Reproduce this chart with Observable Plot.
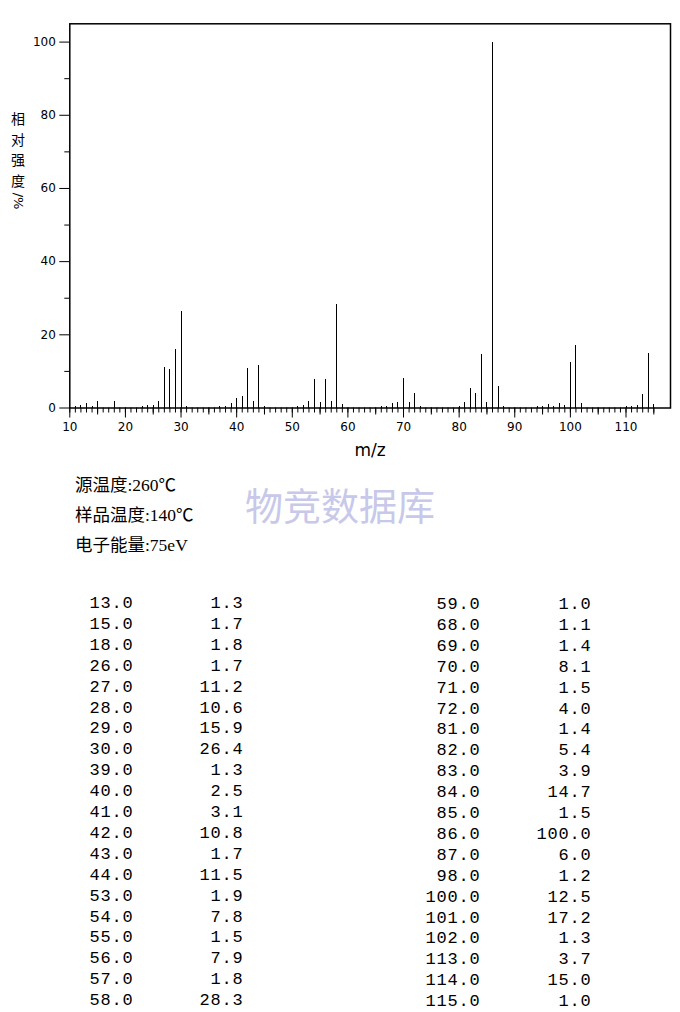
<!DOCTYPE html>
<html><head><meta charset="utf-8">
<script src="https://cdn.jsdelivr.net/npm/d3@7"></script>
<script src="https://cdn.jsdelivr.net/npm/@observablehq/plot@0.6"></script>
<style>
body{margin:0;background:#fff;}
#page{position:relative;width:680px;height:1012px;overflow:hidden;background:#fff;}
#chart{position:absolute;left:0;top:0;}
.ylab{position:absolute;left:9px;top:108px;width:18px;font-family:"Noto Sans CJK SC",sans-serif;font-size:14px;line-height:20.5px;color:#000;text-align:center;}
.ylab .ch{display:block;height:20.5px;}
.ylab .rot{display:block;height:22px;position:relative;}
.ylab .rot span{position:absolute;left:50%;top:50%;transform:translate(-50%,-50%) rotate(90deg);white-space:nowrap;font-family:"DejaVu Sans",sans-serif;font-size:13px;line-height:14px;}
.info{position:absolute;left:75px;font-family:"Liberation Serif","Noto Sans CJK SC",serif;font-size:17.5px;line-height:20px;color:#000;white-space:nowrap;}
.wm{position:absolute;left:0;width:680px;text-align:center;top:482px;font-family:"Noto Sans CJK SC",sans-serif;font-size:38px;line-height:44px;color:#c8c8ea;}
.cell{position:absolute;font-family:"Liberation Mono",monospace;font-size:17px;line-height:14px;letter-spacing:0.8px;color:#000;text-align:right;white-space:nowrap;}
</style></head><body><div id="page"><div id="chart"></div></div>
<script>
// Peak list (table values, relative intensity >= 1%)
const tableMz = [13,15,18,26,27,28,29,30,39,40,41,42,43,44,53,54,55,56,57,58,
                 59,68,69,70,71,72,81,82,83,84,85,86,87,98,100,101,102,113,114,115];
const tableInt = [1.3,1.7,1.8,1.7,11.2,10.6,15.9,26.4,1.3,2.5,3.1,10.8,1.7,11.5,1.9,7.8,1.5,7.9,1.8,28.3,
                  1.0,1.1,1.4,8.1,1.5,4.0,1.4,5.4,3.9,14.7,1.5,100.0,6.0,1.2,12.5,17.2,1.3,3.7,15.0,1.0];
// Small peaks (< 1%)
const minorMz  = [11,12,14,23,24,25,31,37,38,45,51,52,66,67,73,80,88,94,95,96,97,99,110,111,112];
const minorInt = [0.4,0.6,0.4,0.4,0.6,0.6,0.4,0.4,0.4,0.4,0.4,0.6,0.5,0.5,0.4,0.4,0.4,0.4,0.4,0.9,0.5,0.6,0.3,0.4,0.6];
const xTickLabels = [10,20,30,40,50,60,70,80,90,100,110];
const yTickLabels = [0,20,40,60,80,100];
const yMinorTicks = [10,30,50,70,90];
const xLabel = "m/z";
const yLabelChars = ["相","对","强","度"];
const yLabelUnit = "/%";
const infoLines = ["源温度:260℃","样品温度:140℃","电子能量:75eV"];
const watermark = "物竞数据库";

const peaks = tableMz.map((m,i)=>({mz:m,int:tableInt[i]}))
  .concat(minorMz.map((m,i)=>({mz:m,int:minorInt[i]})));

const chart = Plot.plot({
  width:680, height:470,
  marginLeft:69.3, marginRight:10, marginTop:23.3, marginBottom:62.5,
  x:{domain:[10,118]},
  y:{domain:[0,105]},
  style:{fontFamily:"DejaVu Sans", fontSize:"12px", color:"#000", background:"transparent", overflow:"visible"},
  marks:[
    Plot.axisX({ticks:d3.range(10,116), tickSize:5, tickFormat:()=>"", label:null}),
    Plot.axisX({ticks:d3.range(15,116,10), tickSize:7, tickFormat:()=>"", label:null}),
    Plot.axisX({ticks:xTickLabels, tickSize:10, tickPadding:4, label:null}),
    Plot.axisY({ticks:yTickLabels, tickSize:10, tickPadding:4, label:null}),
    Plot.axisY({ticks:yMinorTicks, tickSize:5, tickFormat:()=>"", label:null}),
    Plot.ruleX(peaks, {x:"mz", y1:0, y2:"int", stroke:"#000", strokeWidth:1, shapeRendering:"crispEdges"}),
    Plot.frame({stroke:"#000", strokeWidth:1.5}),
    Plot.text([xLabel], {frameAnchor:"bottom", dy:48, text:d=>d, fontSize:17, fill:"#000", letterSpacing:"3px"})
  ]
});
const page = document.getElementById("page");
document.getElementById("chart").appendChild(chart);

const yl = document.createElement("div");
yl.className="ylab";
yLabelChars.forEach(c=>{const s=document.createElement("span"); s.className="ch"; s.textContent=c; yl.appendChild(s);});
const rot=document.createElement("span"); rot.className="rot";
const rs=document.createElement("span"); rs.textContent=yLabelUnit; rot.appendChild(rs); yl.appendChild(rot);
page.appendChild(yl);

const infoCenters=[485,515,545];
infoLines.forEach((t,i)=>{
  const d=document.createElement("div"); d.className="info"; d.textContent=t;
  d.style.top=(infoCenters[i]-10)+"px"; page.appendChild(d);
});
const wm=document.createElement("div"); wm.className="wm"; wm.textContent=watermark; page.appendChild(wm);

const half = 20;
function cell(text, rightEdge, center){
  const d=document.createElement("div"); d.className="cell"; d.textContent=text;
  d.style.right=(680-rightEdge)+"px"; d.style.top=(center-7)+"px"; page.appendChild(d);
}
tableMz.forEach((m,i)=>{
  const left = i<half;
  const row = left? i : i-half;
  const c = (left?604:605) + row*20.9;
  cell(m.toFixed(1), left?133.5:480.5, c);
  cell(tableInt[i].toFixed(1), left?243.5:591.5, c);
});
</script></body></html>
